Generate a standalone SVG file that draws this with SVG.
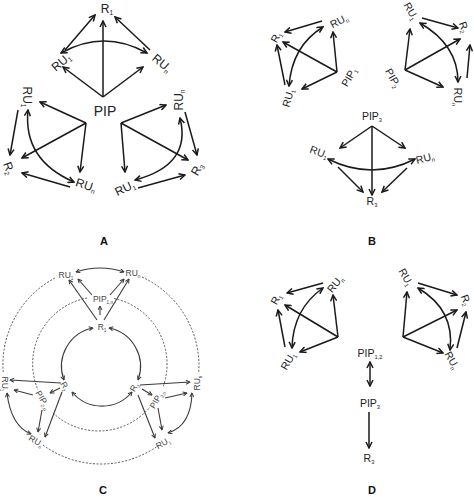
<svg xmlns="http://www.w3.org/2000/svg" width="474" height="497" viewBox="0 0 474 497">
<style>
.ln{fill:none;stroke:#1a1a1a;stroke-width:1.5}
.e{marker-end:url(#a)}
.b{marker-start:url(#a);marker-end:url(#a)}
.cl{fill:none;stroke:#3a3a3a;stroke-width:1.1}
.ce{marker-end:url(#s)}
.cb{marker-start:url(#s);marker-end:url(#s)}
.dash{fill:none;stroke:#555;stroke-width:1;stroke-dasharray:2 1.6}
.t{font-family:"Liberation Sans",Arial,sans-serif;fill:#222;text-anchor:middle}
.ta{font-size:12px}
.tb{font-size:10.5px}
.tc{font-size:8.5px;fill:#444}
.sub{font-size:0.55em}
.lab{font-family:"Liberation Sans",Arial,sans-serif;font-weight:bold;font-size:11px;fill:#111;text-anchor:middle}
</style>
<defs>
<marker id="a" viewBox="0 0 10 10" refX="9" refY="5" markerWidth="7.5" markerHeight="7.5" markerUnits="userSpaceOnUse" orient="auto-start-reverse">
<path d="M1,1 L9,5 L1,9" fill="none" stroke="#1a1a1a" stroke-width="2"/>
</marker>
<marker id="s" viewBox="0 0 10 10" refX="9" refY="5" markerWidth="5" markerHeight="5" markerUnits="userSpaceOnUse" orient="auto-start-reverse">
<path d="M1,1 L9,5 L1,9" fill="none" stroke="#3a3a3a" stroke-width="2"/>
</marker>
</defs>
<rect width="474" height="497" fill="#fff"/>

<!-- Panel A -->
<g id="A-connectors">
<path class="ln e" d="M103,97 L103,21"/>
<path class="ln e" d="M103,97 L63,67"/>
<path class="ln e" d="M103,97 L143,67"/>
<path class="ln e" d="M65,50 L95,15"/>
<path class="ln e" d="M150,50 L115,17"/>
<path class="ln b" d="M61,53 Q104,29 147,53"/>
<path class="ln e" d="M86,123 L40,102"/>
<path class="ln e" d="M86,123 L22,158"/>
<path class="ln e" d="M86,123 L80,172"/>
<path class="ln e" d="M18,110 L10,155"/>
<path class="ln e" d="M70,187 L22,173"/>
<path class="ln b" d="M28,110 Q23,160 74,182"/>
<path class="ln e" d="M121,123 L166,105"/>
<path class="ln e" d="M121,123 L188,160"/>
<path class="ln e" d="M121,123 L125,172"/>
<path class="ln e" d="M185,112 L197,155"/>
<path class="ln e" d="M138,188 L185,175"/>
<path class="ln b" d="M180,118 Q192,165 135,180"/>
</g>
<g id="A-R1"><text class="t ta" x="107" y="9" dy="0.35em">R<tspan class="sub" dy="2">1</tspan></text></g>
<g id="A-RU1"><text class="t ta" transform="translate(61,62) rotate(-40)" dy="0.35em">RU<tspan class="sub" dy="2">1</tspan></text></g>
<g id="A-RUn"><text class="t ta" transform="translate(162,63) rotate(40)" dy="0.35em">RU<tspan class="sub" dy="2">n</tspan></text></g>
<g id="A-PIP"><text class="t" style="font-size:14px" x="105" y="116">PIP</text></g>
<g id="A-RU1-2"><text class="t ta" transform="translate(27,97) rotate(90)" dy="0.35em">RU<tspan class="sub" dy="2">1</tspan></text></g>
<g id="A-R2"><text class="t ta" transform="translate(9,168) rotate(70)" dy="0.35em">R<tspan class="sub" dy="2">2</tspan></text></g>
<g id="A-RUn-2"><text class="t ta" transform="translate(86,185) rotate(18)" dy="0.35em">RU<tspan class="sub" dy="2">n</tspan></text></g>
<g id="A-RUn-3"><text class="t ta" transform="translate(179,100) rotate(-90)" dy="0.35em">RU<tspan class="sub" dy="2">n</tspan></text></g>
<g id="A-R3"><text class="t ta" transform="translate(197,169) rotate(-60)" dy="0.35em">R<tspan class="sub" dy="2">3</tspan></text></g>
<g id="A-RU1-3"><text class="t ta" transform="translate(125,188) rotate(-25)" dy="0.35em">RU<tspan class="sub" dy="2">1</tspan></text></g>
<g id="label-A"><text class="lab" x="104" y="245">A</text></g>

<!-- Panel B -->
<g id="B-connectors">
<path class="ln e" d="M337,72 L333,32"/>
<path class="ln e" d="M337,72 L283,42"/>
<path class="ln e" d="M337,72 L302,89"/>
<path class="ln e" d="M322,21 L285,32"/>
<path class="ln e" d="M285,85 L277,45"/>
<path class="ln b" d="M323,27 Q292,46 289,86"/>
<path class="ln e" d="M405,70 L410,29"/>
<path class="ln e" d="M405,70 L460,39"/>
<path class="ln e" d="M405,70 L443,87"/>
<path class="ln e" d="M422,18 L458,28"/>
<path class="ln e" d="M467,78 L470,45"/>
<path class="ln b" d="M420,23 Q458,45 458,82"/>
<path class="ln e" d="M372,126 L340,148"/>
<path class="ln e" d="M372,126 L405,148"/>
<path class="ln e" d="M372,126 L372,195"/>
<path class="ln b" d="M328,159 Q372,181 415,159"/>
<path class="ln e" d="M338,167 L363,192"/>
<path class="ln e" d="M407,168 L382,192"/>
</g>
<g id="B-RUn"><text class="t tb" transform="translate(339,21) rotate(-28)" dy="0.35em">RU<tspan class="sub" dy="2">n</tspan></text></g>
<g id="B-R1"><text class="t tb" transform="translate(276,37) rotate(-60)" dy="0.35em">R<tspan class="sub" dy="2">1</tspan></text></g>
<g id="B-RU1"><text class="t tb" transform="translate(288,98) rotate(-75)" dy="0.35em">RU<tspan class="sub" dy="2">1</tspan></text></g>
<g id="B-PIP1"><text class="t tb" transform="translate(349,77) rotate(-60)" dy="0.35em">PIP<tspan class="sub" dy="2">1</tspan></text></g>
<g id="B-RU1-2"><text class="t tb" transform="translate(411,11) rotate(60)" dy="0.35em">RU<tspan class="sub" dy="2">1</tspan></text></g>
<g id="B-R2"><text class="t tb" transform="translate(464,27) rotate(70)" dy="0.35em">R<tspan class="sub" dy="2">2</tspan></text></g>
<g id="B-RUn-2"><text class="t tb" transform="translate(458,97) rotate(90)" dy="0.35em">RU<tspan class="sub" dy="2">n</tspan></text></g>
<g id="B-PIP2"><text class="t tb" transform="translate(393,78) rotate(60)" dy="0.35em">PIP<tspan class="sub" dy="2">2</tspan></text></g>
<g id="B-PIP3"><text class="t tb" x="372" y="120">PIP<tspan class="sub" dy="2">3</tspan></text></g>
<g id="B-RU1-3"><text class="t tb" transform="translate(319,152) rotate(20)" dy="0.35em">RU<tspan class="sub" dy="2">1</tspan></text></g>
<g id="B-RUn-3"><text class="t tb" transform="translate(425,158) rotate(-15)" dy="0.35em">RU<tspan class="sub" dy="2">n</tspan></text></g>
<g id="B-R3"><text class="t tb" x="372" y="205">R<tspan class="sub" dy="2">3</tspan></text></g>
<g id="label-B"><text class="lab" x="372" y="245">B</text></g>

<!-- Panel C -->
<g id="C-connectors">
<path class="dash" d="M55,278 A98,98 0 0 0 3.2,371.8"/>
<path class="dash" d="M142,277 A98,98 0 0 1 198.8,371.8"/>
<path class="dash" d="M43,445 A98,98 0 0 0 159,445"/>
<path class="dash" d="M87,298 A67,67 0 0 0 38,390"/>
<path class="dash" d="M114,298.5 A67,67 0 0 1 163,387"/>
<path class="dash" d="M53,413 A67,67 0 0 0 150,407"/>
<path class="cl cb" d="M93,328 A39,39 0 0 0 64,380"/>
<path class="cl cb" d="M109,328 A39,39 0 0 1 138,380"/>
<path class="cl cb" d="M72,392 A39,39 0 0 0 132,392"/>
<path class="cl cb" d="M76,272 Q100,264 124,272"/>
<path class="cl ce" d="M100,315 L100,306"/>
<path class="cl ce" d="M97,320 L69,280"/>
<path class="cl ce" d="M104,320 L129,279"/>
<path class="cl ce" d="M92,295 L78,279"/>
<path class="cl ce" d="M110,295 L124,279"/>
<path class="cl ce" d="M61,383 L10,380"/>
<path class="cl ce" d="M33,395 L14,390"/>
<path class="cl ce" d="M60,388 L50,393"/>
<path class="cl ce" d="M42,410 L38,432"/>
<path class="cl ce" d="M62,392 L45,437"/>
<path class="cl cb" d="M7,393 Q11,426 31,434"/>
<path class="cl ce" d="M140,385 L190,382"/>
<path class="cl ce" d="M142,389 L152,395"/>
<path class="cl ce" d="M165,398 L187,393"/>
<path class="cl ce" d="M158,408 L162,430"/>
<path class="cl ce" d="M138,395 L155,438"/>
<path class="cl cb" d="M192,393 Q191,426 168,433"/>
</g>
<g id="C-RU1"><text class="t tc" x="66" y="275" dy="0.35em">RU<tspan class="sub" dy="2">1</tspan></text></g>
<g id="C-RUn"><text class="t tc" x="133" y="273" dy="0.35em">RU<tspan class="sub" dy="2">n</tspan></text></g>
<g id="C-PIP1n"><text class="t tc" x="103" y="299" dy="0.35em">PIP<tspan class="sub" dy="2">1,n</tspan></text></g>
<g id="C-R1"><text class="t tc" x="102" y="327" dy="0.35em">R<tspan class="sub" dy="2">1</tspan></text></g>
<g id="C-R2"><text class="t tc" transform="translate(65,386) rotate(60)" dy="0.35em">R<tspan class="sub" dy="2">2</tspan></text></g>
<g id="C-R3"><text class="t tc" transform="translate(134,387) rotate(-60)" dy="0.35em">R<tspan class="sub" dy="2">3</tspan></text></g>
<g id="C-RU1-2"><text class="t tc" transform="translate(5,384) rotate(90)" dy="0.35em">RU<tspan class="sub" dy="2">1</tspan></text></g>
<g id="C-PIP2n"><text class="t tc" transform="translate(43,400) rotate(60)" dy="0.35em">PIP<tspan class="sub" dy="2">2,n</tspan></text></g>
<g id="C-RUn-2"><text class="t tc" transform="translate(36,441) rotate(30)" dy="0.35em">RU<tspan class="sub" dy="2">n</tspan></text></g>
<g id="C-RUn-3"><text class="t tc" transform="translate(197,383) rotate(-90)" dy="0.35em">RU<tspan class="sub" dy="2">n</tspan></text></g>
<g id="C-PIP3n"><text class="t tc" transform="translate(157,399) rotate(-60)" dy="0.35em">PIP<tspan class="sub" dy="2">3,n</tspan></text></g>
<g id="C-RU1-3"><text class="t tc" transform="translate(163,443) rotate(-30)" dy="0.35em">RU<tspan class="sub" dy="2">1</tspan></text></g>
<g id="label-C"><text class="lab" x="103" y="494">C</text></g>

<!-- Panel D -->
<g id="D-connectors">
<path class="ln e" d="M338,337 L285,305"/>
<path class="ln e" d="M338,337 L333,295"/>
<path class="ln e" d="M338,337 L300,352"/>
<path class="ln e" d="M323,283 L287,293"/>
<path class="ln e" d="M285,347 L278,310"/>
<path class="ln b" d="M323,288 Q293,309 292,348"/>
<path class="ln e" d="M403,337 L407,292"/>
<path class="ln e" d="M403,337 L457,310"/>
<path class="ln e" d="M403,337 L443,353"/>
<path class="ln e" d="M418,283 L457,295"/>
<path class="ln e" d="M457,348 L466,312"/>
<path class="ln b" d="M418,288 Q455,310 450,350"/>
<path class="ln b" d="M370,362 L370,386"/>
<path class="ln e" d="M369,412 L369,448"/>
</g>
<g id="D-RUn"><text class="t tb" transform="translate(335,284) rotate(-50)" dy="0.35em">RU<tspan class="sub" dy="2">n</tspan></text></g>
<g id="D-R1"><text class="t tb" transform="translate(276,299) rotate(-60)" dy="0.35em">R<tspan class="sub" dy="2">1</tspan></text></g>
<g id="D-RU1"><text class="t tb" transform="translate(288,361) rotate(-60)" dy="0.35em">RU<tspan class="sub" dy="2">1</tspan></text></g>
<g id="D-RU1-2"><text class="t tb" transform="translate(406,277) rotate(60)" dy="0.35em">RU<tspan class="sub" dy="2">1</tspan></text></g>
<g id="D-R2"><text class="t tb" transform="translate(466,300) rotate(70)" dy="0.35em">R<tspan class="sub" dy="2">2</tspan></text></g>
<g id="D-RUn-2"><text class="t tb" transform="translate(452,360) rotate(60)" dy="0.35em">RU<tspan class="sub" dy="2">n</tspan></text></g>
<g id="D-PIP12"><text class="t tb" x="370" y="357">PIP<tspan class="sub" dy="2">1,2</tspan></text></g>
<g id="D-PIP3"><text class="t tb" x="370" y="407">PIP<tspan class="sub" dy="2">3</tspan></text></g>
<g id="D-R3"><text class="t tb" x="369" y="462">R<tspan class="sub" dy="2">3</tspan></text></g>
<g id="label-D"><text class="lab" x="372" y="494">D</text></g>
</svg>
